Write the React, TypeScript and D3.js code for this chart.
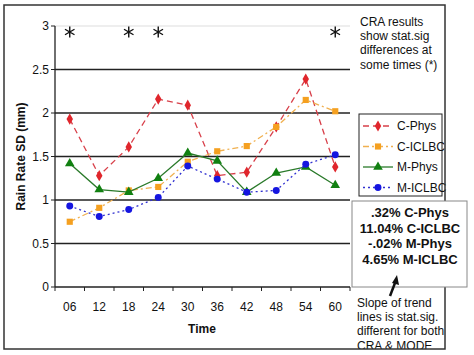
import React from "react";
import * as d3 from "d3";

const times = ["06", "12", "18", "24", "30", "36", "42", "48", "54", "60"];
const cPhys = [1.93, 1.28, 1.61, 2.16, 2.09, 1.28, 1.32, 1.84, 2.39, 1.38];
const cIclbc = [0.75, 0.91, 1.11, 1.15, 1.44, 1.56, 1.62, 1.84, 2.15, 2.02];
const mPhys = [1.42, 1.12, 1.09, 1.25, 1.54, 1.45, 1.09, 1.31, 1.38, 1.17];
const mIclbc = [0.93, 0.81, 0.89, 1.03, 1.39, 1.24, 1.09, 1.11, 1.41, 1.52];
const yTicks = [0, 0.5, 1, 1.5, 2, 2.5, 3];
const sigTimes = ["06", "18", "24", "60"];
const slopeLines = [".32% C-Phys", "11.04% C-ICLBC", "-.02% M-Phys", "4.65% M-ICLBC"];
const noteLines = ["CRA results", "show stat.sig", "differences at", "some times (*)"];
const slopeNote = ["Slope of trend", "lines is stat.sig.", "different for both", "CRA & MODE"];

const series = [
  { name: "C-Phys", values: cPhys, color: "#e0262c", line: "#d8404a", dash: "6,4", marker: "diamond" },
  { name: "C-ICLBC", values: cIclbc, color: "#f5a020", line: "#f0b050", dash: "6,3,2,3", marker: "square" },
  { name: "M-Phys", values: mPhys, color: "#118011", line: "#2a7a2a", dash: "", marker: "triangle" },
  { name: "M-ICLBC", values: mIclbc, color: "#1515e0", line: "#3030d0", dash: "2,3", marker: "circle" },
];

const font = "'Liberation Sans', Arial, sans-serif";

function Marker({ type, x, y, color }: { type: string; x: number; y: number; color: string }) {
  const symType =
    type === "diamond" ? d3.symbolDiamond : type === "square" ? d3.symbolSquare : type === "triangle" ? d3.symbolTriangle : d3.symbolCircle;
  const size = type === "diamond" ? 36 : type === "triangle" ? 40 : 38;
  const p = d3.symbol().type(symType).size(size)()!;
  return <path d={p} transform={`translate(${x},${y})`} fill={color} />;
}

function Star({ x, y }: { x: number; y: number }) {
  const r = 5.5;
  const arms = [0, 60, 120].map((a) => {
    const rad = (a * Math.PI) / 180 + Math.PI / 2;
    return `M${x - r * Math.cos(rad)},${y - r * Math.sin(rad)}L${x + r * Math.cos(rad)},${y + r * Math.sin(rad)}`;
  });
  return <path d={arms.join("")} stroke="#111" strokeWidth={1.4} fill="none" />;
}

export default function App() {
  const x = d3.scaleBand().domain(times).range([55, 350]);
  const y = d3.scaleLinear().domain([0, 3]).range([287, 26]);
  const cx = (t: string) => x(t)! + x.bandwidth() / 2;
  const line = d3
    .line<number>()
    .x((_, i) => cx(times[i]))
    .y((d) => y(d));

  return (
    <svg width={474} height={355} style={{ position: "absolute", left: 0, top: 0 }} fontFamily={font}>
      <defs>
        <clipPath id="frameClip">
          <rect x={4} y={5} width={441} height={344} />
        </clipPath>
      </defs>
      <rect x={0} y={0} width={474} height={355} fill="#fff" />
      {/* gridlines */}
      {yTicks.slice(1).map((t) => (
        <line key={t} x1={55} x2={350} y1={y(t)} y2={y(t)} stroke={t === 3 ? "#ddd" : "#222"} strokeWidth={t === 3 ? 1 : 1.3} />
      ))}
      {/* axes */}
      <line x1={55} x2={55} y1={y(3)} y2={y(0)} stroke="#222" strokeWidth={1.3} />
      <line x1={55} x2={350} y1={y(0)} y2={y(0)} stroke="#222" strokeWidth={1.3} />
      {yTicks.map((t) => (
        <g key={t}>
          <line x1={51} x2={55} y1={y(t)} y2={y(t)} stroke="#222" />
          <text x={49} y={y(t) + 4} textAnchor="end" fontSize={12} fill="#111">
            {t}
          </text>
        </g>
      ))}
      {times.map((t) => (
        <g key={t}>
          <line x1={x(t)!} x2={x(t)!} y1={287} y2={291} stroke="#222" />
          <text x={cx(t)} y={311} textAnchor="middle" fontSize={12} fill="#111">
            {t}
          </text>
        </g>
      ))}
      <line x1={350} x2={350} y1={287} y2={291} stroke="#222" />
      <text x={202} y={333} textAnchor="middle" fontSize={12} fontWeight="bold" fill="#111">
        Time
      </text>
      <text transform={`translate(25,${y(1.5)}) rotate(-90)`} textAnchor="middle" fontSize={12} fontWeight="bold" fill="#111">
        Rain Rate SD (mm)
      </text>
      {/* asterisks */}
      {sigTimes.map((t) => (
        <Star key={t} x={cx(t)} y={32} />
      ))}
      {/* series */}
      {series.map((s) => (
        <g key={s.name}>
          <path d={line(s.values)!} fill="none" stroke={s.line} strokeWidth={1.3} strokeDasharray={s.dash || undefined} />
          {s.values.map((v, i) => (
            <Marker key={i} type={s.marker} x={cx(times[i])} y={y(v)} color={s.color} />
          ))}
        </g>
      ))}
      {/* legend */}
      <rect x={359} y={114} width={83} height={82} fill="#fff" stroke="#222" strokeWidth={1} />
      {series.map((s, i) => {
        const ly = 126 + i * 20.5;
        return (
          <g key={s.name}>
            <line x1={363} x2={393} y1={ly} y2={ly} stroke={s.line} strokeWidth={1.3} strokeDasharray={s.dash || undefined} />
            <Marker type={s.marker} x={378} y={ly} color={s.color} />
            <text x={397} y={ly + 4} fontSize={12} fill="#111">
              {s.name}
            </text>
          </g>
        );
      })}
      {/* top-right note */}
      {noteLines.map((l, i) => (
        <text key={i} x={360} y={26 + i * 14.2} fontSize={12} fill="#111">
          {l}
        </text>
      ))}
      <g clipPath="url(#frameClip)">
        {slopeNote.map((l, i) => (
          <text key={i} x={357} y={307 + i * 14.2} fontSize={12} fill="#111">
            {l}
          </text>
        ))}
      </g>
      <rect x={4} y={5} width={441} height={344} fill="none" stroke="#333" strokeWidth={1.5} />
      {/* slope box */}
      <rect x={352} y={201} width={115} height={86} fill="#fff" stroke="#888" strokeWidth={1} />
      {slopeLines.map((l, i) => (
        <text key={i} x={410} y={217 + i * 15.7} textAnchor="middle" fontSize={13} fontWeight="bold" fill="#111">
          {l}
        </text>
      ))}
      {/* arrow */}
      <line x1={390} y1={296} x2={395} y2={283} stroke="#111" strokeWidth={2.5} />
      <path d="M392,283 L397,275 L399,285 Z" fill="#111" />
    </svg>
  );
}
